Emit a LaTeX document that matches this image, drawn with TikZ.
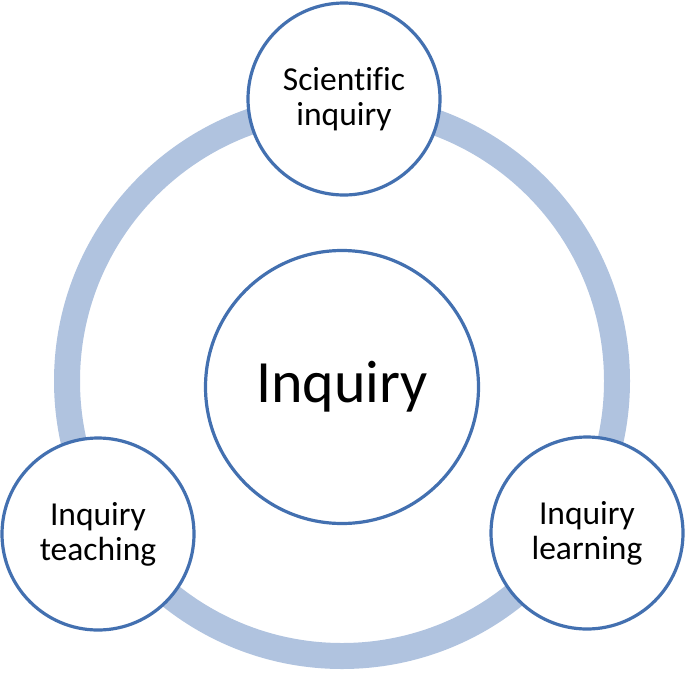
\documentclass[tikz,border=0pt]{standalone}
\usepackage{fontspec}
\setmainfont[Ligatures=NoCommon]{Carlito}
\definecolor{ringblue}{HTML}{B0C3DF}
\definecolor{edgeblue}{HTML}{4370B0}
\tikzset{
  bubble/.style={circle, draw=edgeblue, line width=3.2pt, fill=white, inner sep=0pt, align=center,
    font=\fontsize{33.5}{35}\selectfont},
}
\begin{document}
\begin{tikzpicture}[x=1pt,y=-1pt]
\useasboundingbox (0,0) rectangle (685,672);
\draw[ringblue, line width=26pt] (342,381) circle[radius=275];
\node[bubble, minimum size=273pt, font=\fontsize{60}{64}\selectfont] (c) at (342,387) {Inquiry};
\node[bubble, minimum size=192pt] (s) at (344,99) {Scientific\\inquiry};
\node[bubble, minimum size=192pt] (t) at (98,534) {Inquiry\\teaching};
\node[bubble, minimum size=192pt] (l) at (587,533) {Inquiry\\learning};
\end{tikzpicture}
\end{document}
